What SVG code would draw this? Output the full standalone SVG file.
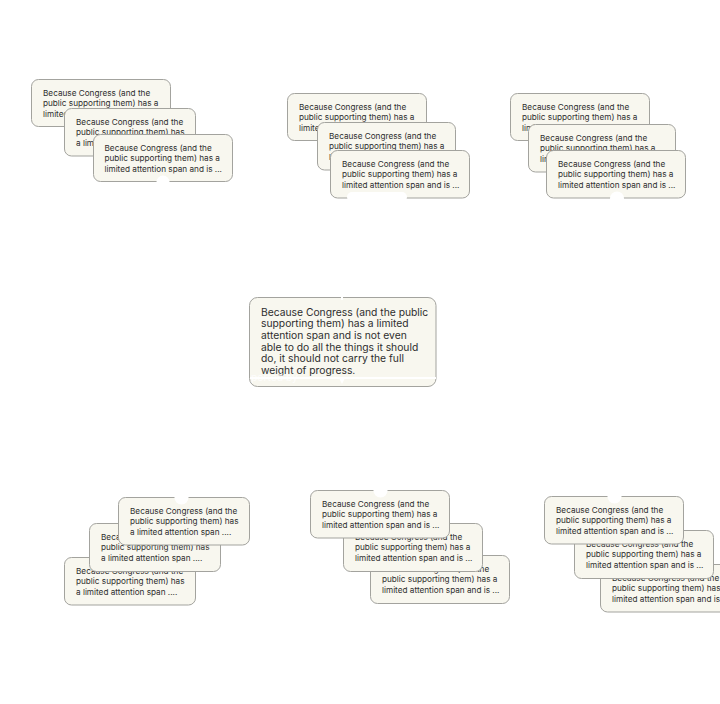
<svg xmlns="http://www.w3.org/2000/svg" width="720" height="704" viewBox="0 0 720 704">
<style>
.card{fill:#f8f7ef;stroke:#a3a39e;stroke-width:1}
.t{font-family:Inter,"Liberation Sans",sans-serif;font-size:8.2px;fill:#2e2e2e}
.tc{font-family:Inter,"Liberation Sans",sans-serif;font-size:10.3px;fill:#2e2e2e}
.w{fill:#ffffff;stroke:none}
.wl{stroke:#ffffff;fill:none}
</style>
<rect width="720" height="704" fill="#ffffff"/>
<!-- top-left group -->
<g id="A1"><rect class="card" x="31.5" y="79.5" width="139" height="47" rx="7"/>
<text class="t" x="43" y="95.5">Because Congress (and the</text><text class="t" x="43" y="106">public supporting them) has a</text><text class="t" x="43" y="116.5">limited attention span and is ...</text></g>
<g id="A2"><rect class="card" x="64.5" y="108.5" width="131" height="47.5" rx="7"/>
<text class="t" x="76" y="124.5">Because Congress (and the</text><text class="t" x="76" y="135">public supporting them) has</text><text class="t" x="76" y="145.5">a limited attention span ....</text></g>
<g id="A3"><rect class="card" x="93.5" y="134.5" width="139" height="47" rx="7"/>
<text class="t" x="104.5" y="150.5">Because Congress (and the</text><text class="t" x="104.5" y="161">public supporting them) has a</text><text class="t" x="104.5" y="171.5">limited attention span and is ...</text></g>
<!-- top-middle group -->
<g id="B1"><rect class="card" x="287.5" y="93.5" width="139" height="47" rx="7"/>
<text class="t" x="299" y="109.5">Because Congress (and the</text><text class="t" x="299" y="120">public supporting them) has a</text><text class="t" x="299" y="130.5">limited attention span and is ...</text></g>
<g id="B2"><rect class="card" x="317.5" y="122.5" width="138" height="47.5" rx="7"/>
<text class="t" x="329" y="138.5">Because Congress (and the</text><text class="t" x="329" y="149">public supporting them) has a</text><text class="t" x="329" y="159.5">limited attention span and is ...</text></g>
<g id="B3"><rect class="card" x="330.5" y="150.5" width="139" height="47.5" rx="7"/>
<text class="t" x="342" y="166.5">Because Congress (and the</text><text class="t" x="342" y="177">public supporting them) has a</text><text class="t" x="342" y="187.5">limited attention span and is ...</text></g>
<!-- top-right group -->
<g id="C1"><rect class="card" x="510.5" y="93.5" width="139" height="47" rx="7"/>
<text class="t" x="522" y="109.5">Because Congress (and the</text><text class="t" x="522" y="120">public supporting them) has a</text><text class="t" x="522" y="130.5">limited attention span and is ...</text></g>
<g id="C2"><rect class="card" x="528.5" y="124.5" width="147" height="47.5" rx="7"/>
<text class="t" x="540" y="140.5">Because Congress (and the</text><text class="t" x="540" y="151">public supporting them) has a</text><text class="t" x="540" y="161.5">limited attention span and is ...</text></g>
<g id="C3"><rect class="card" x="546.5" y="150.5" width="139" height="47.5" rx="7"/>
<text class="t" x="558" y="166.5">Because Congress (and the</text><text class="t" x="558" y="177">public supporting them) has a</text><text class="t" x="558" y="187.5">limited attention span and is ...</text></g>
<!-- central -->
<g id="center"><rect class="card" x="249.5" y="297.5" width="186.5" height="89" rx="8"/>
<text class="tc" x="261" y="315.5">Because Congress (and the public</text>
<text class="tc" x="261" y="327.2">supporting them) has a limited</text>
<text class="tc" x="261" y="338.9">attention span and is not even</text>
<text class="tc" x="261" y="350.6">able to do all the things it should</text>
<text class="tc" x="261" y="362.3">do, it should not carry the full</text>
<text class="tc" x="261" y="374">weight of progress.</text>
<text class="tc" x="251" y="381" fill="#ffffff" style="fill:#ffffff;opacity:0.8">ported by</text></g>
<!-- bottom-left group -->
<g id="D3"><rect class="card" x="64.5" y="557.5" width="131" height="47.5" rx="7"/>
<text class="t" x="76" y="573.5">Because Congress (and the</text><text class="t" x="76" y="584">public supporting them) has</text><text class="t" x="76" y="594.5">a limited attention span ....</text></g>
<g id="D2"><rect class="card" x="89.5" y="523.5" width="131" height="48" rx="7"/>
<text class="t" x="101" y="539.5">Because Congress (and the</text><text class="t" x="101" y="550">public supporting them) has</text><text class="t" x="101" y="560.5">a limited attention span ....</text></g>
<g id="D1"><rect class="card" x="118.5" y="497.5" width="131" height="47.5" rx="7"/>
<text class="t" x="130" y="513.5">Because Congress (and the</text><text class="t" x="130" y="524">public supporting them) has</text><text class="t" x="130" y="534.5">a limited attention span ....</text></g>
<!-- bottom-middle group -->
<g id="E3"><rect class="card" x="370.5" y="555.5" width="139" height="48" rx="7"/>
<text class="t" x="382" y="571.5">Because Congress (and the</text><text class="t" x="382" y="582">public supporting them) has a</text><text class="t" x="382" y="592.5">limited attention span and is ...</text></g>
<g id="E2"><rect class="card" x="343.5" y="523.5" width="139" height="48" rx="7"/>
<text class="t" x="355" y="539.5">Because Congress (and the</text><text class="t" x="355" y="550">public supporting them) has a</text><text class="t" x="355" y="560.5">limited attention span and is ...</text></g>
<g id="E1"><rect class="card" x="310.5" y="490.5" width="139" height="47.5" rx="7"/>
<text class="t" x="322" y="506.5">Because Congress (and the</text><text class="t" x="322" y="517">public supporting them) has a</text><text class="t" x="322" y="527.5">limited attention span and is ...</text></g>
<!-- bottom-right group -->
<g id="F3"><rect class="card" x="600.5" y="564.5" width="139" height="47.5" rx="7"/>
<text class="t" x="612" y="580.5">Because Congress (and the</text><text class="t" x="612" y="591">public supporting them) has a</text><text class="t" x="612" y="601.5">limited attention span and is ...</text></g>
<g id="F2"><rect class="card" x="574.5" y="530.5" width="139" height="48" rx="7"/>
<text class="t" x="586" y="546.5">Because Congress (and the</text><text class="t" x="586" y="557">public supporting them) has a</text><text class="t" x="586" y="567.5">limited attention span and is ...</text></g>
<g id="F1"><rect class="card" x="544.5" y="496.5" width="139" height="47.5" rx="7"/>
<text class="t" x="556" y="512.5">Because Congress (and the</text><text class="t" x="556" y="523">public supporting them) has a</text><text class="t" x="556" y="533.5">limited attention span and is ...</text></g>
<!-- connector endpoints (white) -->
<g id="connectors">
<circle class="w" cx="163" cy="182" r="6.5"/>
<rect class="w" x="347" y="192" width="60" height="10" rx="5"/>
<circle class="w" cx="617" cy="198.5" r="7"/>
<line class="wl" x1="342" y1="294" x2="342" y2="300" stroke-width="2"/>
<line class="wl" x1="250" y1="378" x2="436" y2="378" stroke-width="2"/>
<path class="w" d="M339 378 L345 378 L342 384 Z"/>
<circle class="w" cx="181.5" cy="497.5" r="7"/>
<circle class="w" cx="380.5" cy="490.5" r="7"/>
<circle class="w" cx="614.5" cy="496.5" r="7"/>
</g>
</svg>
